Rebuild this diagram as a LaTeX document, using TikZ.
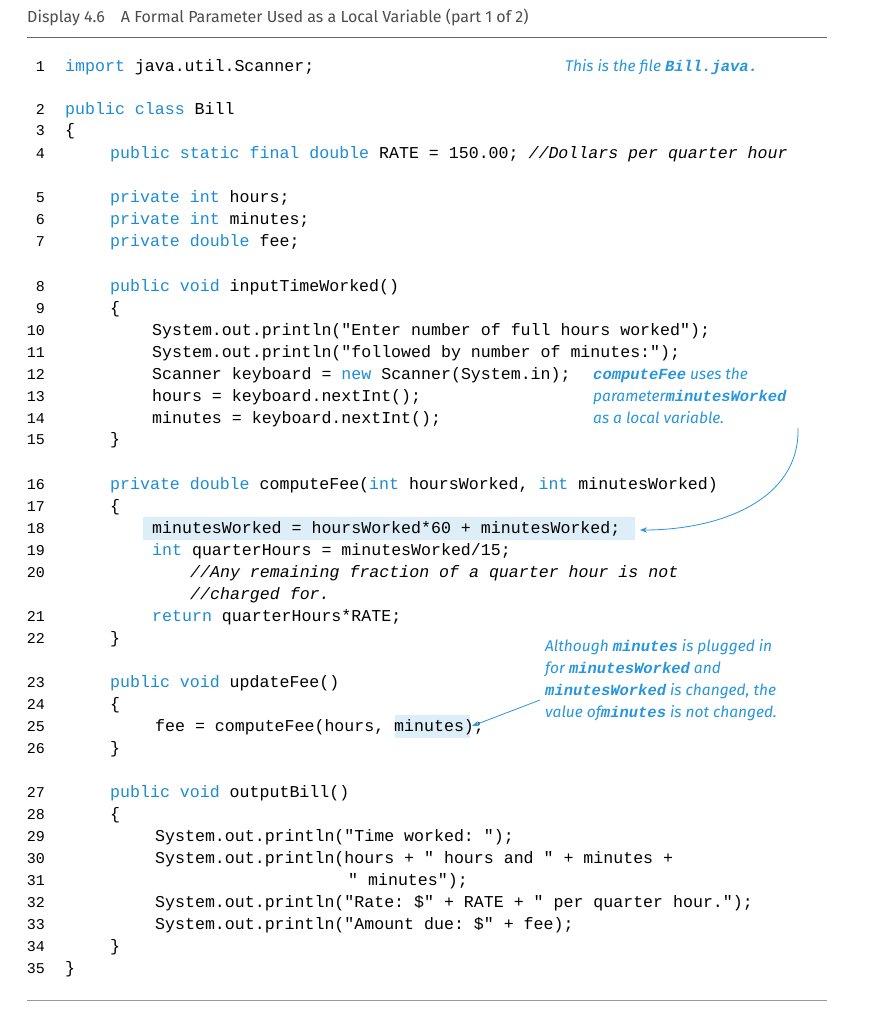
\documentclass[tikz,border=0pt]{standalone}
\usepackage{fontspec}
\setmonofont{Liberation Mono}
\setsansfont{Fira Sans}
\usetikzlibrary{arrows.meta}
\definecolor{kw}{RGB}{30,140,210}
\definecolor{hl}{RGB}{222,238,248}
\definecolor{ann}{RGB}{40,150,220}
\newcommand\kw[1]{\textcolor{kw}{#1}}
\newcommand\am[1]{{\ttfamily\bfseries #1}}
\tikzset{code/.style={anchor=base west,inner sep=0pt,font=\ttfamily\fontsize{16.6}{18}\selectfont},
num/.style={anchor=base east,inner sep=0pt,font=\ttfamily\fontsize{15}{18}\selectfont},
note/.style={anchor=base west,inner sep=0pt,align=left,text=ann,font=\sffamily\itshape\fontsize{15.5}{22}\selectfont},
arr/.style={draw=ann,line width=0.8pt,-{Stealth[length=7pt]}}}
\begin{document}
\begin{tikzpicture}[x=1pt,y=-1pt]
\useasboundingbox (0,0) rectangle (877,1024);
\fill[white] (0,0) rectangle (877,1024);
\node[anchor=base west,inner sep=0pt,text=black!70,font=\sffamily\fontsize{16}{18}\selectfont] (title) at (27,23) {Display 4.6\quad A Formal Parameter Used as a Local Variable (part 1 of 2)};
\draw[black!60,line width=0.8pt] (27,37) -- (827,37);
\draw[black!40,line width=0.8pt] (27,1000) -- (827,1000);
\fill[hl] (143,517) rectangle (635,540);
\fill[hl] (395,715) rectangle (470,738);
\foreach \n/\y in {1/67,2/110,3/131,4/154,5/198,6/220,7/242,8/286,9/308,10/330,11/352,12/374,13/396,14/418,15/439,16/484,17/506,18/528,19/550,20/572,21/616,22/638,23/682,24/704,25/726,26/748,27/792,28/814,29/836,30/858,31/880,32/902,33/924,34/946,35/968}
  \node[num] (n\n) at (45,\y+5) {\n};
\node[code] (c1) at (65,72) {\kw{import} java.util.Scanner;};
\node[code] (c2) at (65,115) {\kw{public class} Bill};
\node[code] (c3) at (65,136) {\{};
\node[code] (c4) at (110,159) {\kw{public static final double} RATE = 150.00; \textit{//Dollars per quarter hour}};
\node[code] (c5) at (110,203) {\kw{private int} hours;};
\node[code] (c6) at (110,225) {\kw{private int} minutes;};
\node[code] (c7) at (110,247) {\kw{private double} fee;};
\node[code] (c8) at (110,291) {\kw{public void} inputTimeWorked()};
\node[code] (c9) at (110,313) {\{};
\node[code] (c10) at (152,335) {System.out.println("Enter number of full hours worked");};
\node[code] (c11) at (152,357) {System.out.println("followed by number of minutes:");};
\node[code] (c12) at (152,379) {Scanner keyboard = \kw{new} Scanner(System.in);};
\node[code] (c13) at (152,401) {hours = keyboard.nextInt();};
\node[code] (c14) at (152,423) {minutes = keyboard.nextInt();};
\node[code] (c15) at (110,444) {\}};
\node[code] (c16) at (110,489) {\kw{private double} computeFee(\kw{int} hoursWorked, \kw{int} minutesWorked)};
\node[code] (c17) at (110,511) {\{};
\node[code] (c18) at (152,533) {minutesWorked = hoursWorked*60 + minutesWorked;};
\node[code] (c19) at (152,555) {\kw{int} quarterHours = minutesWorked/15;};
\node[code] (c20) at (190,577) {\textit{//Any remaining fraction of a quarter hour is not}};
\node[code] (c20b) at (190,599) {\textit{//charged for.}};
\node[code] (c21) at (152,621) {\kw{return} quarterHours*RATE;};
\node[code] (c22) at (110,643) {\}};
\node[code] (c23) at (110,687) {\kw{public void} updateFee()};
\node[code] (c24) at (110,709) {\{};
\node[code] (c25) at (155,731) {fee = computeFee(hours, minutes);};
\node[code] (c26) at (110,753) {\}};
\node[code] (c27) at (110,797) {\kw{public void} outputBill()};
\node[code] (c28) at (110,819) {\{};
\node[code] (c29) at (155,841) {System.out.println("Time worked: ");};
\node[code] (c30) at (155,863) {System.out.println(hours + " hours and " + minutes +};
\node[code] (c31) at (348,885) {" minutes");};
\node[code] (c32) at (155,907) {System.out.println("Rate: \$" + RATE + " per quarter hour.");};
\node[code] (c33) at (155,929) {System.out.println("Amount due: \$" + fee);};
\node[code] (c34) at (110,951) {\}};
\node[code] (c35) at (65,973) {\}};
\node[note] (a1) at (565,72) {This is the file \am{Bill.java.}};
\node[note] (a2) at (593,423) {\am{computeFee} uses the\\parameter\am{minutesWorked}\\as a local variable.};
\node[note] (a3) at (545,717) {Although \am{minutes} is plugged in\\for \am{minutesWorked} and\\\am{minutesWorked} is changed, the\\value of\am{minutes} is not changed.};
\coordinate (s1) at (798,428);
\coordinate (e1) at (640,530);
\draw[arr] (s1) .. controls (800,500) and (720,530) .. (e1);
\coordinate (s2) at (540,700);
\coordinate (e2) at (472,726);
\draw[arr] (s2) -- (e2);
\end{tikzpicture}
\end{document}
